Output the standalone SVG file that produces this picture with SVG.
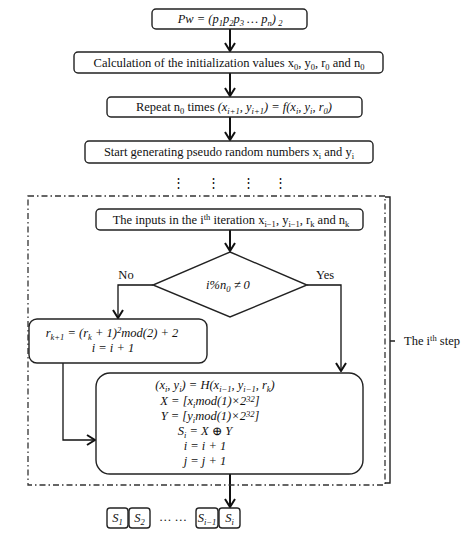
<svg xmlns="http://www.w3.org/2000/svg" width="474" height="535" viewBox="0 0 474 535">
<style>
.box{fill:#fff;stroke:#222;stroke-width:1.4}
.t{font-family:"Liberation Serif","DejaVu Serif",serif;font-size:12.5px;fill:#111}
.m{font-style:italic}
.s{font-size:8.5px}
.main{fill:none;stroke:#111;stroke-width:2}
.thin{fill:none;stroke:#111;stroke-width:1.3}
.dd{fill:none;stroke:#333;stroke-width:1.3;stroke-dasharray:6,3,1.5,3}
</style>
<defs>
<marker id="ah" markerUnits="userSpaceOnUse" viewBox="0 0 10 12" refX="9" refY="6" markerWidth="10" markerHeight="12" orient="auto">
<path d="M1,1 L9,6 L1,11" fill="none" stroke="#111" stroke-width="2"/>
</marker>
</defs>
<rect fill="#fff" width="474" height="535"/>

<g id="connectors">
<line class="main" x1="230" y1="29" x2="230" y2="51" marker-end="url(#ah)"/>
<line class="main" x1="230" y1="73" x2="230" y2="96" marker-end="url(#ah)"/>
<line class="main" x1="230" y1="117" x2="230" y2="140" marker-end="url(#ah)"/>
<line class="main" x1="230" y1="230" x2="230" y2="251" marker-end="url(#ah)"/>
<polyline class="thin" points="153,285 118,285 118,318" marker-end="url(#ah)"/>
<polyline class="thin" points="307,285 341,285 341,371" marker-end="url(#ah)"/>
<polyline class="thin" points="63,363 63,440 95,440" marker-end="url(#ah)"/>
<line class="main" x1="230" y1="474" x2="230" y2="507" marker-end="url(#ah)"/>
</g>

<g id="ellipsis-dots" class="t">
<text x="178" y="187" text-anchor="middle">⋮</text>
<text x="213" y="187" text-anchor="middle">⋮</text>
<text x="248" y="187" text-anchor="middle">⋮</text>
<text x="280" y="187" text-anchor="middle">⋮</text>
</g>

<g id="step-frame">
<rect class="dd" x="28" y="196" width="357" height="289"/>
<path d="M385,197 L390,197 L390,483 L385,483 M390,341 L395,341" fill="none" stroke="#222" stroke-width="1.4"/>
<text class="t" x="404" y="345">The i<tspan class="s" baseline-shift="4">th</tspan> step</text>
</g>

<g id="n-pw">
<rect class="box" x="152" y="9" width="155" height="20" rx="4"/>
<text class="t m" x="230" y="23" text-anchor="middle">Pw =  (p<tspan class="s" baseline-shift="-3">1</tspan>p<tspan class="s" baseline-shift="-3">2</tspan>p<tspan class="s" baseline-shift="-3">3</tspan> … p<tspan class="s" baseline-shift="-3">n</tspan>)<tspan class="s" baseline-shift="-3"> 2</tspan></text>
</g>

<g id="n-calc">
<rect class="box" x="74" y="52" width="309" height="21" rx="4"/>
<text class="t" x="229" y="67" text-anchor="middle">Calculation of the initialization values x<tspan class="s" baseline-shift="-3">0</tspan>, y<tspan class="s" baseline-shift="-3">0</tspan>, r<tspan class="s" baseline-shift="-3">0</tspan> and n<tspan class="s" baseline-shift="-3">0</tspan></text>
</g>

<g id="n-repeat">
<rect class="box" x="107" y="97" width="255" height="20" rx="4"/>
<text class="t" x="234" y="111" text-anchor="middle">Repeat n<tspan class="s" baseline-shift="-3">0</tspan> times <tspan class="m">(x<tspan class="s" baseline-shift="-3">i+1</tspan>, y<tspan class="s" baseline-shift="-3">i+1</tspan>) = f(x<tspan class="s" baseline-shift="-3">i</tspan>, y<tspan class="s" baseline-shift="-3">i</tspan>, r<tspan class="s" baseline-shift="-3">0</tspan>)</tspan></text>
</g>

<g id="n-start">
<rect class="box" x="85" y="141" width="288" height="22" rx="4"/>
<text class="t" x="229" y="156" text-anchor="middle">Start generating pseudo random numbers x<tspan class="s" baseline-shift="-3">i</tspan> and y<tspan class="s" baseline-shift="-3">i</tspan></text>
</g>

<g id="n-inputs">
<rect class="box" x="96" y="209" width="267" height="21" rx="4"/>
<text class="t" x="231" y="224" text-anchor="middle">The inputs in the i<tspan class="s" baseline-shift="4">th</tspan> iteration x<tspan class="s" baseline-shift="-3">i−1</tspan>, y<tspan class="s" baseline-shift="-3">i−1</tspan>, r<tspan class="s" baseline-shift="-3">k</tspan> and n<tspan class="s" baseline-shift="-3">k</tspan></text>
</g>

<g id="n-decision">
<polygon class="box" points="230,252 307,285 230,317 153,285"/>
<text class="t m" x="228" y="289" text-anchor="middle">i%n<tspan class="s" baseline-shift="-3">0</tspan> ≠ 0</text>
<text class="t" x="126" y="279" text-anchor="middle">No</text>
<text class="t" x="325" y="279" text-anchor="middle">Yes</text>
</g>

<g id="n-update">
<rect class="box" x="29" y="319" width="178" height="44" rx="8"/>
<text class="t m" x="112" y="337" text-anchor="middle">r<tspan class="s" baseline-shift="-3">k+1</tspan> = (r<tspan class="s" baseline-shift="-3">k</tspan> + 1)<tspan class="s" baseline-shift="4">2</tspan>mod(2) + 2</text>
<text class="t m" x="113" y="352" text-anchor="middle">i = i + 1</text>
</g>

<g id="n-compute">
<rect class="box" x="96" y="373" width="267" height="101" rx="14"/>
<text class="t m" x="215" y="389" text-anchor="middle">(x<tspan class="s" baseline-shift="-2.5">i</tspan>, y<tspan class="s" baseline-shift="-2.5">i</tspan>) = H(x<tspan class="s" baseline-shift="-2.5">i−1</tspan>, y<tspan class="s" baseline-shift="-2.5">i−1</tspan>, r<tspan class="s" baseline-shift="-2.5">k</tspan>)</text>
<text class="t m" x="210" y="405" text-anchor="middle">X = [x<tspan class="s" baseline-shift="-2.5">i</tspan>mod(1)×2<tspan class="s" baseline-shift="3">32</tspan>]</text>
<text class="t m" x="210" y="420" text-anchor="middle">Y = [y<tspan class="s" baseline-shift="-2.5">i</tspan>mod(1)×2<tspan class="s" baseline-shift="3">32</tspan>]</text>
<text class="t m" x="205" y="435" text-anchor="middle">S<tspan class="s" baseline-shift="-2.5">i</tspan> = X ⊕ Y</text>
<text class="t m" x="205" y="450" text-anchor="middle">i = i + 1</text>
<text class="t m" x="205" y="465" text-anchor="middle">j = j + 1</text>
</g>

<g id="n-s1">
<rect class="box" x="107" y="508" width="21" height="20" rx="3"/>
<text class="t m" x="117.5" y="522" text-anchor="middle">S<tspan class="s" baseline-shift="-3">1</tspan></text>
</g>
<g id="n-s2">
<rect class="box" x="129" y="508" width="21" height="20" rx="3"/>
<text class="t m" x="139.5" y="522" text-anchor="middle">S<tspan class="s" baseline-shift="-3">2</tspan></text>
</g>
<g id="n-dots">
<text class="t" x="173" y="521" text-anchor="middle" font-size="9">…  …</text>
</g>
<g id="n-sim1">
<rect class="box" x="196" y="508" width="22" height="20" rx="3"/>
<text class="t m" x="207" y="522" text-anchor="middle">S<tspan class="s" baseline-shift="-3">i−1</tspan></text>
</g>
<g id="n-si">
<rect class="box" x="219" y="508" width="21" height="20" rx="3"/>
<text class="t m" x="229.5" y="522" text-anchor="middle">S<tspan class="s" baseline-shift="-3">i</tspan></text>
</g>
</svg>
